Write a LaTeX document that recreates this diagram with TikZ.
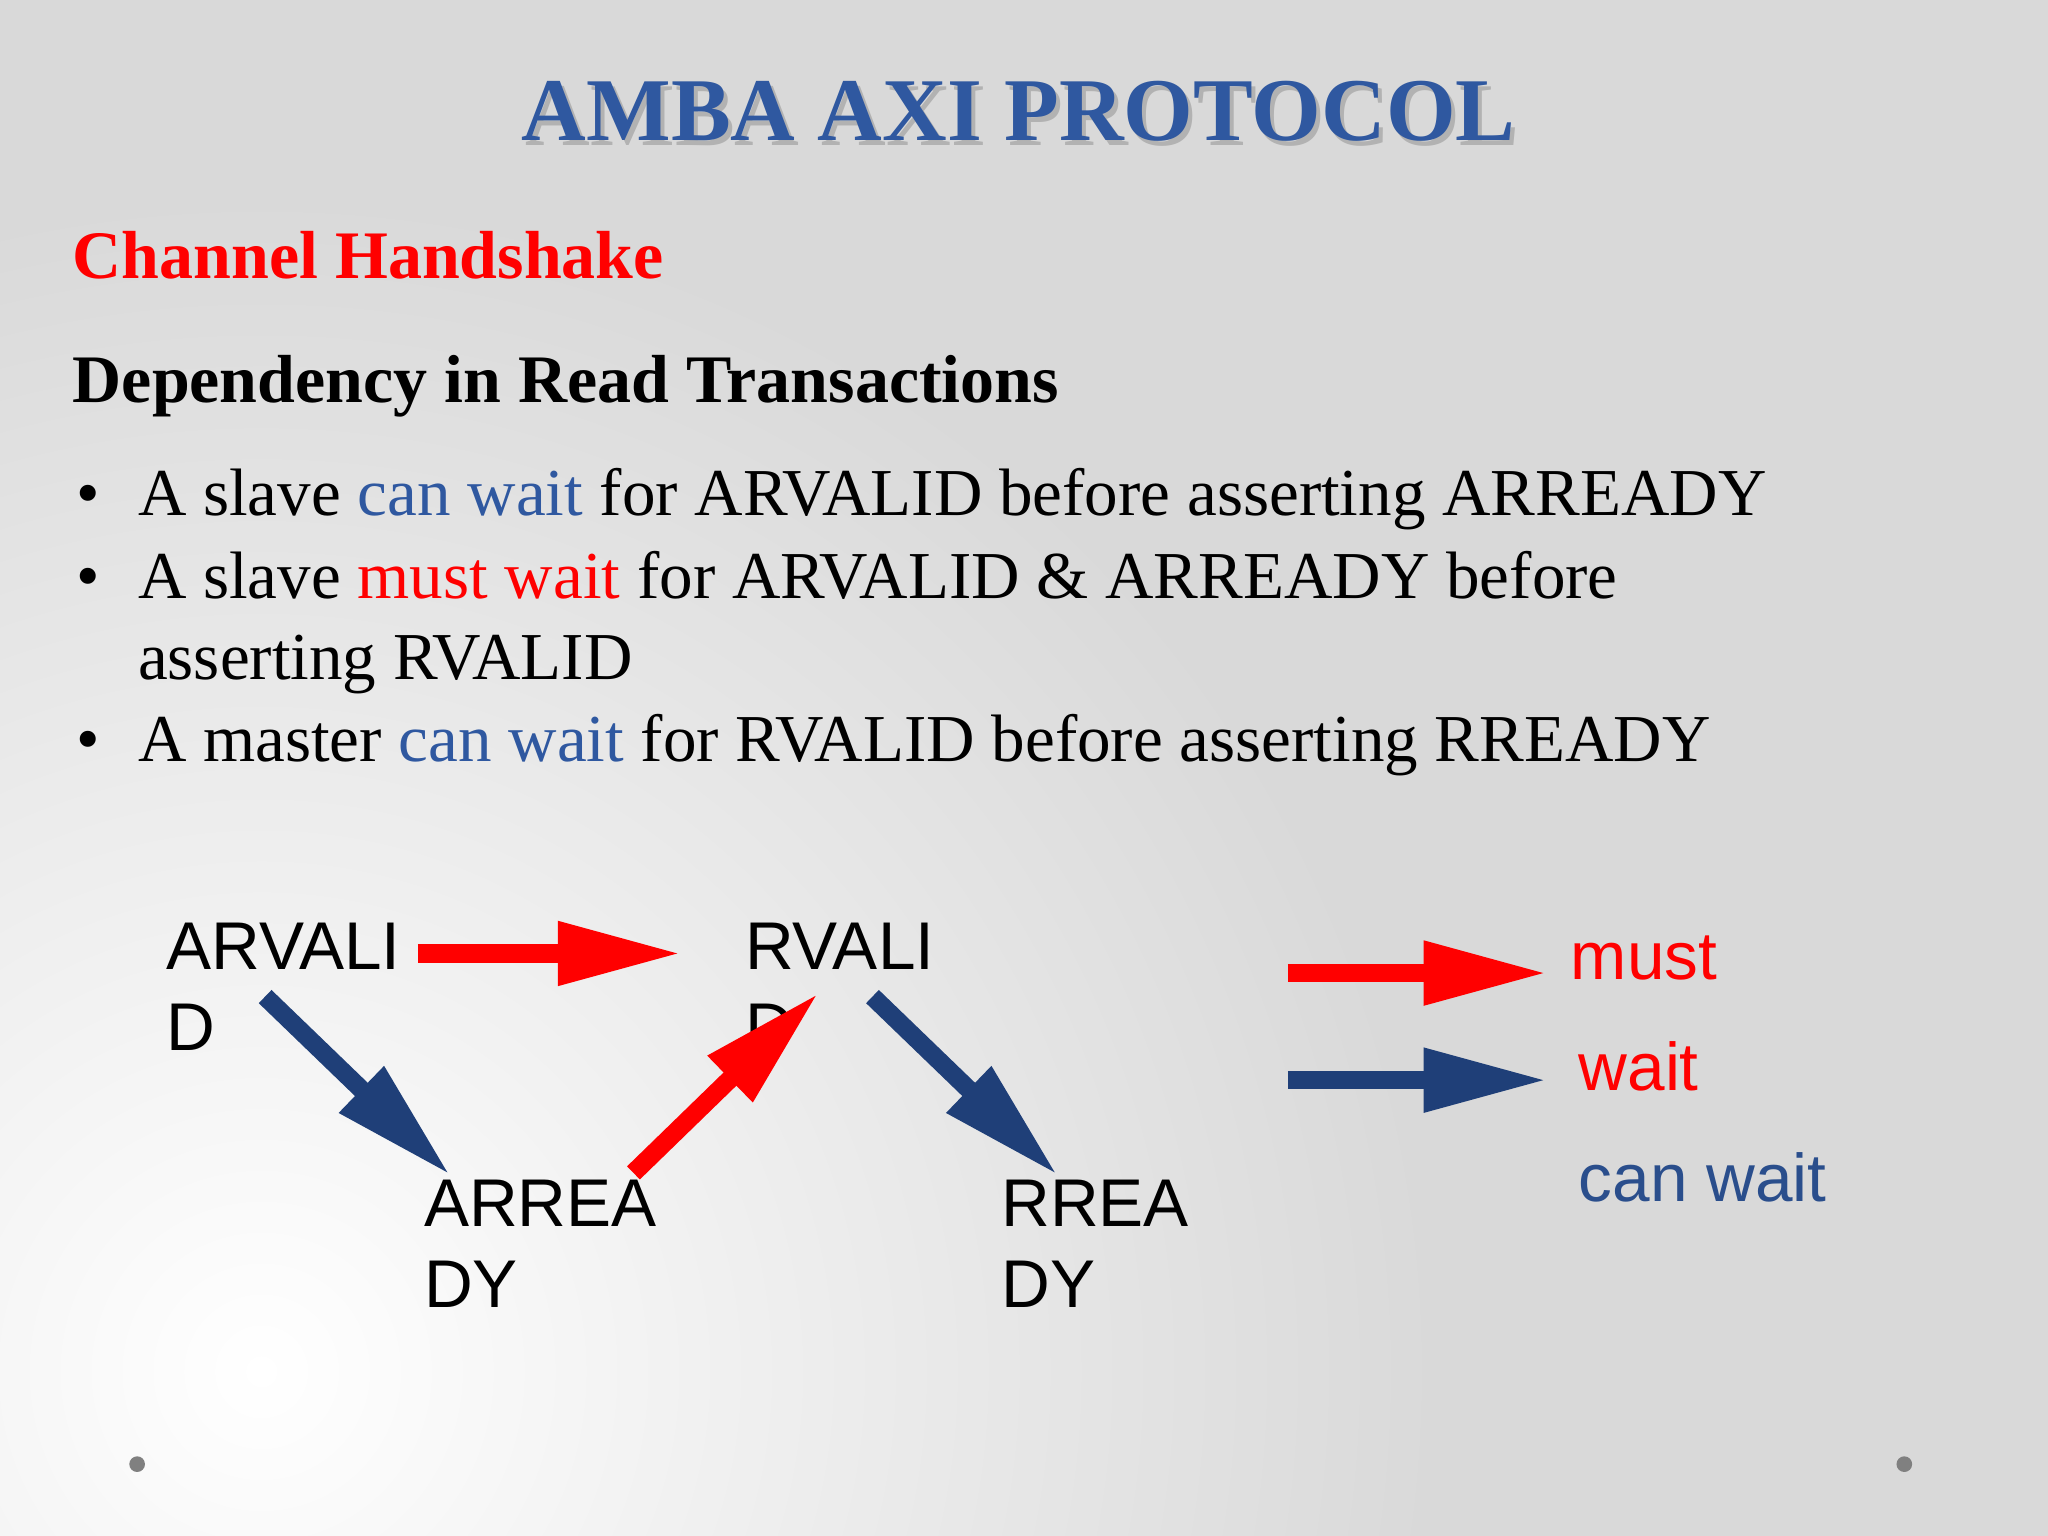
\documentclass[tikz,border=0pt]{standalone}
\usepackage{fontspec}
\setmainfont{Liberation Serif}
\setsansfont{Liberation Sans}
\usetikzlibrary{arrows.meta}
\definecolor{tblue}{HTML}{2F58A0}
\definecolor{ablue}{HTML}{1F3F78}
\definecolor{cwblue}{HTML}{2A4E8C}
\definecolor{ared}{HTML}{FF0000}
\definecolor{bg}{HTML}{D9D9D9}
\tikzset{
  txt/.style={anchor=base west, inner sep=0pt, font=\fontsize{14.6}{17}\selectfont},
  lbl/.style={anchor=north west, inner sep=0pt, align=left, font=\sffamily\fontsize{14.7}{17.6}\selectfont},
  arr/.style={line width=4pt, -{Triangle[length=27pt,width=13pt]}},
  redarr/.style={arr, draw=ared},
  bluearr/.style={arr, draw=ablue},
}
\begin{document}
\begin{tikzpicture}[x=0.01cm,y=-0.01cm]
\useasboundingbox (0,0) rectangle (1568,1176);
\fill[bg] (0,0) rectangle (1568,1176);
\begin{scope}
\clip (0,0) rectangle (1568,1176);
\shade[inner color=white, outer color=bg] (-700,150) rectangle (1100,1950);
\end{scope}
% title
\node[anchor=center, text=black!30, font=\bfseries\fontsize{19.5}{24}\selectfont] at (783,89) {AMBA AXI PROTOCOL};
\node (title) [anchor=center, text=tblue, font=\bfseries\fontsize{19.5}{24}\selectfont] at (780,85) {AMBA AXI PROTOCOL};
\node (ch) [txt, text=ared, font=\bfseries\fontsize{14.8}{17}\selectfont] at (55,213) {Channel Handshake};
\node (dep) [txt, font=\bfseries\fontsize{14.8}{17}\selectfont] at (55,308) {Dependency in Read Transactions};
\foreach \y in {395,458,583} {\node[txt] at (58,\y) {•};}
\node (b1) [txt] at (105,395) {A slave \textcolor{tblue}{can wait} for ARVALID before asserting ARREADY};
\node (b2) [txt] at (105,458) {A slave \textcolor{ared}{must wait} for ARVALID \& ARREADY before};
\node (b2b) [txt] at (105,520) {asserting RVALID};
\node (b3) [txt] at (105,583) {A master \textcolor{tblue}{can wait} for RVALID before asserting RREADY};
% diagram labels
\node (arvalid) [lbl] at (127,706) {ARVALI\\D};
\node (rvalid) [lbl] at (570,706) {RVALI\\D};
\node (arready) [lbl] at (324,903) {ARREA\\DY};
\node (rready) [lbl] at (766,903) {RREA\\DY};
\coordinate (a1) at (320,730); \coordinate (a2) at (522,730);
\coordinate (b1s) at (203,763); \coordinate (b1e) at (345,900);
\coordinate (c1) at (485,898); \coordinate (c2) at (627,760);
\coordinate (d1) at (668,763); \coordinate (d2) at (810,900);
\draw[redarr] (a1) -- (a2);
\draw[bluearr] (b1s) -- (b1e);
\draw[redarr] (c1) -- (c2);
\draw[bluearr] (d1) -- (d2);
% legend
\coordinate (l1) at (986,745); \coordinate (l2) at (1185,745);
\coordinate (m1) at (986,827); \coordinate (m2) at (1185,827);
\draw[redarr] (l1) -- (l2);
\draw[bluearr] (m1) -- (m2);
\node (must) [lbl, anchor=base west, text=ared] at (1202,750) {must};
\node (wait) [lbl, anchor=base west, text=ared] at (1208,835) {wait};
\node (cw) [lbl, anchor=base west, text=cwblue] at (1208,920) {can wait};
\fill[gray] (105,1121) circle (6);
\fill[gray] (1458,1121) circle (6);
\end{tikzpicture}
\end{document}
